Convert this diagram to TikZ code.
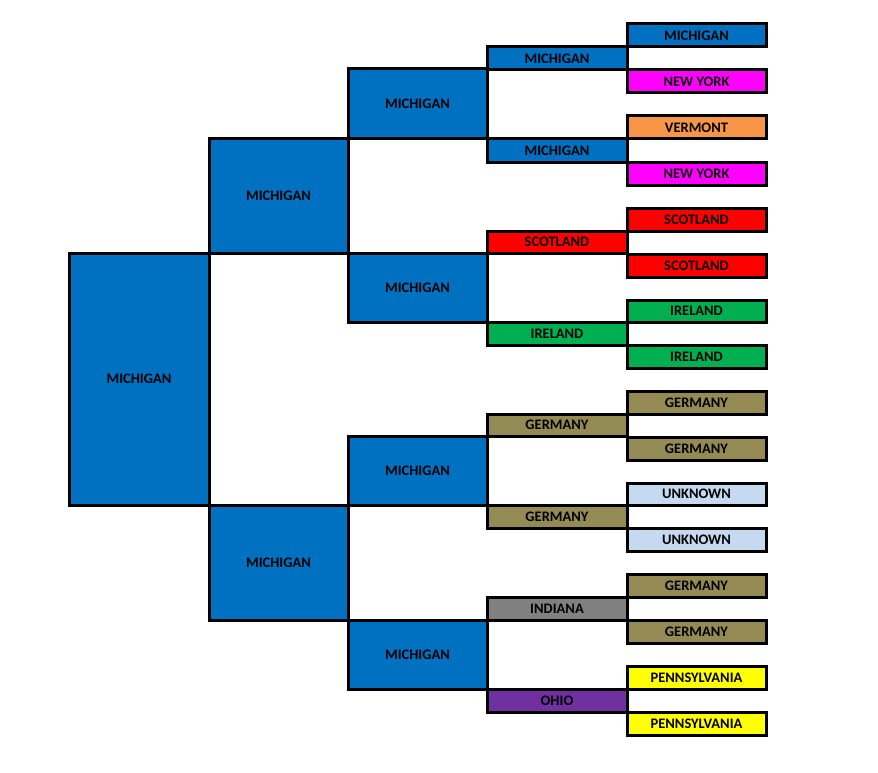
\documentclass[tikz,border=0pt]{standalone}
\usepackage{fontspec}
\setmainfont{Carlito}
\definecolor{cblue}{HTML}{0070C0}
\definecolor{cmag}{HTML}{FF00FF}
\definecolor{corange}{HTML}{F79646}
\definecolor{cred}{HTML}{FF0000}
\definecolor{cgreen}{HTML}{00B050}
\definecolor{colive}{HTML}{948A54}
\definecolor{clblue}{HTML}{C5D9F1}
\definecolor{cgrey}{HTML}{808080}
\definecolor{cpurple}{HTML}{7030A0}
\definecolor{cyellow}{HTML}{FFFF00}
\tikzset{bx/.style={draw=black,line width=3pt,inner sep=0pt,font=\fontsize{14.5}{16}\selectfont\bfseries,text=black}}
\newcommand{\bx}[7]{\node[bx,fill=#6,minimum width={#4-#2},minimum height={#5-#3}] (#1) at ({(#2+#4)/2},{(#3+#5)/2}) {#7};}
\begin{document}
\begin{tikzpicture}[x=1pt,y=-1pt]
\useasboundingbox (0,0) rectangle (878,773);
\bx{a}{69}{253}{209}{505}{cblue}{MICHIGAN}
\bx{b1}{209}{139}{348}{253}{cblue}{MICHIGAN}
\bx{b2}{209}{505}{348}{620}{cblue}{MICHIGAN}
\bx{c1}{348}{69}{487}{139}{cblue}{MICHIGAN}
\bx{c2}{348}{253}{487}{322}{cblue}{MICHIGAN}
\bx{c3}{348}{436}{487}{505}{cblue}{MICHIGAN}
\bx{c4}{348}{620}{487}{689}{cblue}{MICHIGAN}
\bx{d1}{487}{47}{627}{70}{cblue}{MICHIGAN}
\bx{d2}{487}{139}{627}{162}{cblue}{MICHIGAN}
\bx{d3}{487}{231}{627}{253}{cred}{SCOTLAND}
\bx{d4}{487}{322}{627}{345}{cgreen}{IRELAND}
\bx{d5}{487}{414}{627}{436}{colive}{GERMANY}
\bx{d6}{487}{505}{627}{528}{colive}{GERMANY}
\bx{d7}{487}{597}{627}{620}{cgrey}{INDIANA}
\bx{d8}{487}{689}{627}{712}{cpurple}{OHIO}
\bx{e1}{627}{24}{766}{47}{cblue}{MICHIGAN}
\bx{e2}{627}{70}{766}{93}{cmag}{NEW YORK}
\bx{e3}{627}{116}{766}{139}{corange}{VERMONT}
\bx{e4}{627}{162}{766}{185}{cmag}{NEW YORK}
\bx{e5}{627}{208}{766}{231}{cred}{SCOTLAND}
\bx{e6}{627}{254}{766}{277}{cred}{SCOTLAND}
\bx{e7}{627}{300}{766}{322}{cgreen}{IRELAND}
\bx{e8}{627}{345}{766}{368}{cgreen}{IRELAND}
\bx{e9}{627}{391}{766}{414}{colive}{GERMANY}
\bx{e10}{627}{437}{766}{460}{colive}{GERMANY}
\bx{e11}{627}{483}{766}{505}{clblue}{UNKNOWN}
\bx{e12}{627}{528}{766}{551}{clblue}{UNKNOWN}
\bx{e13}{627}{574}{766}{597}{colive}{GERMANY}
\bx{e14}{627}{620}{766}{643}{colive}{GERMANY}
\bx{e15}{627}{666}{766}{689}{cyellow}{PENNSYLVANIA}
\bx{e16}{627}{712}{766}{735}{cyellow}{PENNSYLVANIA}
\end{tikzpicture}
\end{document}
